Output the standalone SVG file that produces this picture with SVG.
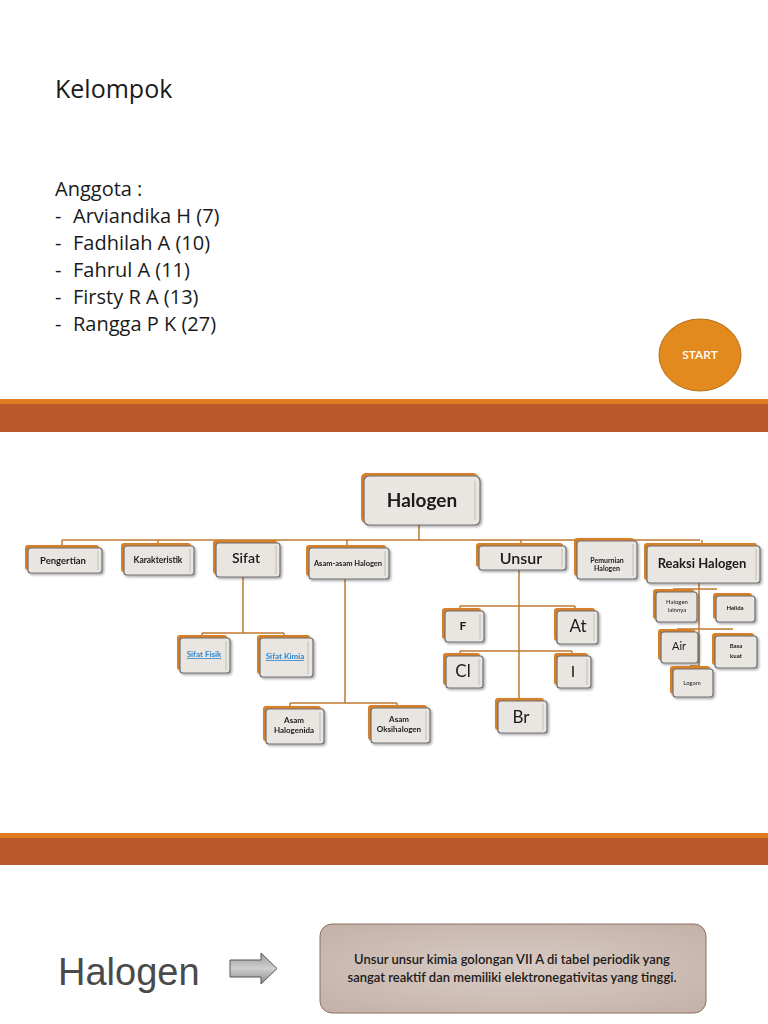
<svg xmlns="http://www.w3.org/2000/svg" width="768" height="1024" viewBox="0 0 768 1024">
<defs>
<style>
.t{font-family:Lato,"Open Sans","Liberation Sans",sans-serif;fill:#1a1a1a}
.b{font-weight:bold}
.c{text-anchor:middle}
.or{fill:#D6812C}
.bx{fill:#E9E6E2;stroke:#6f6f6f;stroke-width:1.2}
.hl{stroke:#cfcac5;stroke-width:1.5}
.ln{stroke:#C07A35;stroke-width:1.5;fill:none}
.lk{fill:#2E86C8;text-decoration:underline}
.h{font-family:"Open Sans",sans-serif;fill:#1a1a1a}
</style>
<filter id="sh" x="-20%" y="-20%" width="150%" height="150%">
<feDropShadow dx="1.5" dy="1.5" stdDeviation="1" flood-color="#000" flood-opacity="0.35"/>
</filter>
<linearGradient id="ag" x1="0" y1="0" x2="0" y2="1">
<stop offset="0" stop-color="#9a9a9a"/><stop offset="0.5" stop-color="#cfcfcf"/><stop offset="1" stop-color="#8a8a8a"/>
</linearGradient>
<radialGradient id="bg" cx="0.5" cy="0.5" r="0.7">
<stop offset="0" stop-color="#D8CBC4"/><stop offset="1" stop-color="#C3B1A8"/>
</radialGradient>
</defs>
<rect width="768" height="1024" fill="#fff"/>

<g id="header">
<text class="h" x="55" y="98" font-size="25">Kelompok</text>
<g class="h" font-size="20">
<text x="55" y="196">Anggota :</text>
<text x="55" y="223">-</text><text x="73" y="223">Arviandika H (7)</text>
<text x="55" y="250">-</text><text x="73" y="250">Fadhilah A (10)</text>
<text x="55" y="277">-</text><text x="73" y="277">Fahrul A (11)</text>
<text x="55" y="304">-</text><text x="73" y="304">Firsty R A (13)</text>
<text x="55" y="331">-</text><text x="73" y="331">Rangga P K (27)</text>
</g>
</g>

<g id="start">
<ellipse cx="700" cy="355" rx="41" ry="36" fill="#E28A1E" stroke="#B8701C" stroke-width="1"/>
<text class="t c" x="700" y="359" font-size="12" style="fill:#fff;font-weight:600">START</text>
</g>

<g id="band1">
<rect x="0" y="399" width="768" height="5" fill="#E07B22"/>
<rect x="0" y="404" width="768" height="28" fill="#BA592C"/>
</g>
<g id="band2">
<rect x="0" y="833" width="768" height="5" fill="#E07B22"/>
<rect x="0" y="838" width="768" height="27" fill="#BA592C"/>
</g>

<g id="connectors">
<path class="ln" d="M419 525V540M62 540H700"/>
<path class="ln" d="M62 540V546M158 540V544M246 540V541M347 540V546M521 540V544M702 540V544"/>
<path class="ln" d="M243 577V633M202 633H284M202 633V636M284 633V636"/>
<path class="ln" d="M345 579V703M290 703H397M290 703V707M397 703V706"/>
<path class="ln" d="M519 570V698M460 606H575M460 651H572M460 606V609M575 606V609M460 651V654M572 651V654"/>
<path class="ln" d="M699 583V666M673 589H717M677 629H733M690 666H699"/>
</g>

<g id="n-halogen" filter="url(#sh)">
<rect class="or" x="361" y="473" width="117" height="50" rx="5"/>
<rect class="bx" x="364" y="476" width="116" height="49" rx="5"/>
<line class="hl" x1="475" y1="481" x2="475" y2="520"/>
<text class="t b c" x="422" y="507" font-size="19">Halogen</text>
</g>

<g id="n-pengertian" filter="url(#sh)">
<rect class="or" x="25" y="545" width="74" height="25" rx="3"/>
<rect class="bx" x="28" y="548" width="74" height="25" rx="3"/>
<line class="hl" x1="98" y1="551" x2="98" y2="570"/>
<text class="t b c" x="63" y="564" font-size="9.5">Pengertian</text>
</g>
<g id="n-karakteristik" filter="url(#sh)">
<rect class="or" x="121" y="543" width="70" height="29" rx="3"/>
<rect class="bx" x="124" y="546" width="70" height="29" rx="3"/>
<line class="hl" x1="190" y1="549" x2="190" y2="572"/>
<text class="t b c" x="158" y="563" font-size="8.5">Karakteristik</text>
</g>
<g id="n-sifat" filter="url(#sh)">
<rect class="or" x="213" y="540" width="64" height="34" rx="3"/>
<rect class="bx" x="216" y="543" width="64" height="34" rx="3"/>
<line class="hl" x1="276" y1="546" x2="276" y2="574"/>
<text class="t c" x="246" y="563" font-size="14" style="font-weight:600">Sifat</text>
</g>
<g id="n-asam" filter="url(#sh)">
<rect class="or" x="306" y="545" width="80" height="31" rx="3"/>
<rect class="bx" x="309" y="548" width="80" height="31" rx="3"/>
<line class="hl" x1="385" y1="551" x2="385" y2="576"/>
<text class="t b c" x="348" y="566" font-size="7.5">Asam-asam Halogen</text>
</g>
<g id="n-unsur" filter="url(#sh)">
<rect class="or" x="476" y="543" width="87" height="24" rx="3"/>
<rect class="bx" x="479" y="546" width="87" height="24" rx="3"/>
<line class="hl" x1="562" y1="549" x2="562" y2="567"/>
<text class="t c" x="521" y="564" font-size="16" style="font-weight:600">Unsur</text>
</g>
<g id="n-pemurnian" filter="url(#sh)">
<rect class="or" x="574" y="538" width="60" height="38" rx="3"/>
<rect class="bx" x="577" y="541" width="60" height="38" rx="3"/>
<line class="hl" x1="633" y1="544" x2="633" y2="576"/>
<text class="t b c" x="607" y="563" font-size="7">Pemurnian</text>
<text class="t b c" x="607" y="571" font-size="7">Halogen</text>
</g>
<g id="n-reaksi" filter="url(#sh)">
<rect class="or" x="644" y="543" width="113" height="37" rx="3"/>
<rect class="bx" x="647" y="546" width="113" height="37" rx="3"/>
<line class="hl" x1="756" y1="549" x2="756" y2="580"/>
<text class="t b c" x="702" y="568" font-size="13">Reaksi Halogen</text>
</g>

<g id="n-sifat-fisik" filter="url(#sh)">
<rect class="or" x="177" y="635" width="50" height="35" rx="3"/>
<rect class="bx" x="180" y="638" width="50" height="35" rx="3"/>
<line class="hl" x1="226" y1="641" x2="226" y2="670"/>
<text class="t b c lk" x="204" y="657" font-size="8">Sifat Fisik</text>
</g>
<g id="n-sifat-kimia" filter="url(#sh)">
<rect class="or" x="257" y="635" width="53" height="39" rx="3"/>
<rect class="bx" x="260" y="638" width="53" height="39" rx="3"/>
<line class="hl" x1="308" y1="641" x2="308" y2="674"/>
<text class="t b c lk" x="285" y="659" font-size="8">Sifat Kimia</text>
</g>

<g id="n-asam-halogenida" filter="url(#sh)">
<rect class="or" x="263" y="706" width="58" height="35" rx="3"/>
<rect class="bx" x="266" y="709" width="58" height="35" rx="3"/>
<line class="hl" x1="320" y1="712" x2="320" y2="741"/>
<text class="t b c" x="294" y="723" font-size="8">Asam</text>
<text class="t b c" x="294" y="733" font-size="8">Halogenida</text>
</g>
<g id="n-asam-oksihalogen" filter="url(#sh)">
<rect class="or" x="368" y="705" width="59" height="35" rx="3"/>
<rect class="bx" x="371" y="708" width="59" height="35" rx="3"/>
<line class="hl" x1="426" y1="711" x2="426" y2="740"/>
<text class="t b c" x="399" y="722" font-size="8">Asam</text>
<text class="t b c" x="399" y="732" font-size="8">Oksihalogen</text>
</g>

<g id="n-f" filter="url(#sh)">
<rect class="or" x="442" y="608" width="39" height="31" rx="3"/>
<rect class="bx" x="445" y="611" width="39" height="31" rx="3"/>
<line class="hl" x1="480" y1="614" x2="480" y2="639"/>
<text class="t b c" x="463" y="630" font-size="12">F</text>
</g>
<g id="n-at" filter="url(#sh)">
<rect class="or" x="554" y="608" width="41" height="33" rx="3"/>
<rect class="bx" x="557" y="611" width="41" height="33" rx="3"/>
<line class="hl" x1="594" y1="614" x2="594" y2="641"/>
<text class="t c" x="578" y="632" font-size="17">At</text>
</g>
<g id="n-cl" filter="url(#sh)">
<rect class="or" x="443" y="653" width="37" height="32" rx="3"/>
<rect class="bx" x="446" y="656" width="37" height="32" rx="3"/>
<line class="hl" x1="479" y1="659" x2="479" y2="685"/>
<text class="t c" x="463" y="677" font-size="17">Cl</text>
</g>
<g id="n-i" filter="url(#sh)">
<rect class="or" x="554" y="653" width="34" height="32" rx="3"/>
<rect class="bx" x="557" y="656" width="34" height="32" rx="3"/>
<line class="hl" x1="587" y1="659" x2="587" y2="685"/>
<text class="t c" x="573" y="677" font-size="16">I</text>
</g>
<g id="n-br" filter="url(#sh)">
<rect class="or" x="495" y="698" width="49" height="32" rx="3"/>
<rect class="bx" x="498" y="701" width="49" height="32" rx="3"/>
<line class="hl" x1="543" y1="704" x2="543" y2="730"/>
<text class="t c" x="521" y="723" font-size="17">Br</text>
</g>

<g id="n-halogen-lainnya" filter="url(#sh)">
<rect class="or" x="653" y="589" width="41" height="30" rx="3"/>
<rect class="bx" x="656" y="592" width="41" height="30" rx="3"/>
<text class="t c" x="677" y="604" font-size="6">Halogen</text>
<text class="t c" x="677" y="612" font-size="6">lainnya</text>
</g>
<g id="n-helida" filter="url(#sh)">
<rect class="or" x="713" y="593" width="39" height="26" rx="3"/>
<rect class="bx" x="716" y="596" width="39" height="26" rx="3"/>
<text class="t b c" x="735" y="610" font-size="6">Helida</text>
</g>
<g id="n-air" filter="url(#sh)">
<rect class="or" x="658" y="629" width="37" height="31" rx="3"/>
<rect class="bx" x="661" y="632" width="37" height="31" rx="3"/>
<text class="t c" x="679" y="650" font-size="11">Air</text>
</g>
<g id="n-basa-kuat" filter="url(#sh)">
<rect class="or" x="712" y="633" width="42" height="32" rx="3"/>
<rect class="bx" x="715" y="636" width="42" height="32" rx="3"/>
<text class="t b c" x="736" y="648" font-size="6">Basa</text>
<text class="t b c" x="736" y="658" font-size="6">kuat</text>
</g>
<g id="n-logam" filter="url(#sh)">
<rect class="or" x="670" y="666" width="40" height="28" rx="3"/>
<rect class="bx" x="673" y="669" width="40" height="28" rx="3"/>
<text class="t c" x="692" y="685" font-size="6">Logam</text>
</g>

<g id="definition">
<text x="58" y="985" font-size="38" fill="#4a4a4a" style="font-family:'Liberation Sans',Arial,sans-serif">Halogen</text>
<path d="M230 960H261V953L277 968.5L261 984V977H230Z" fill="url(#ag)" stroke="#555" stroke-width="1"/>
<rect x="320" y="924" width="386" height="89" rx="12" fill="url(#bg)" stroke="#8E6F62" stroke-width="1"/>
<text class="t c" x="512" y="964" font-size="13" style="font-weight:600">Unsur unsur kimia golongan VII A di tabel periodik yang</text>
<text class="t c" x="512" y="982" font-size="13" style="font-weight:600">sangat reaktif dan memiliki elektronegativitas yang tinggi.</text>
</g>
</svg>
